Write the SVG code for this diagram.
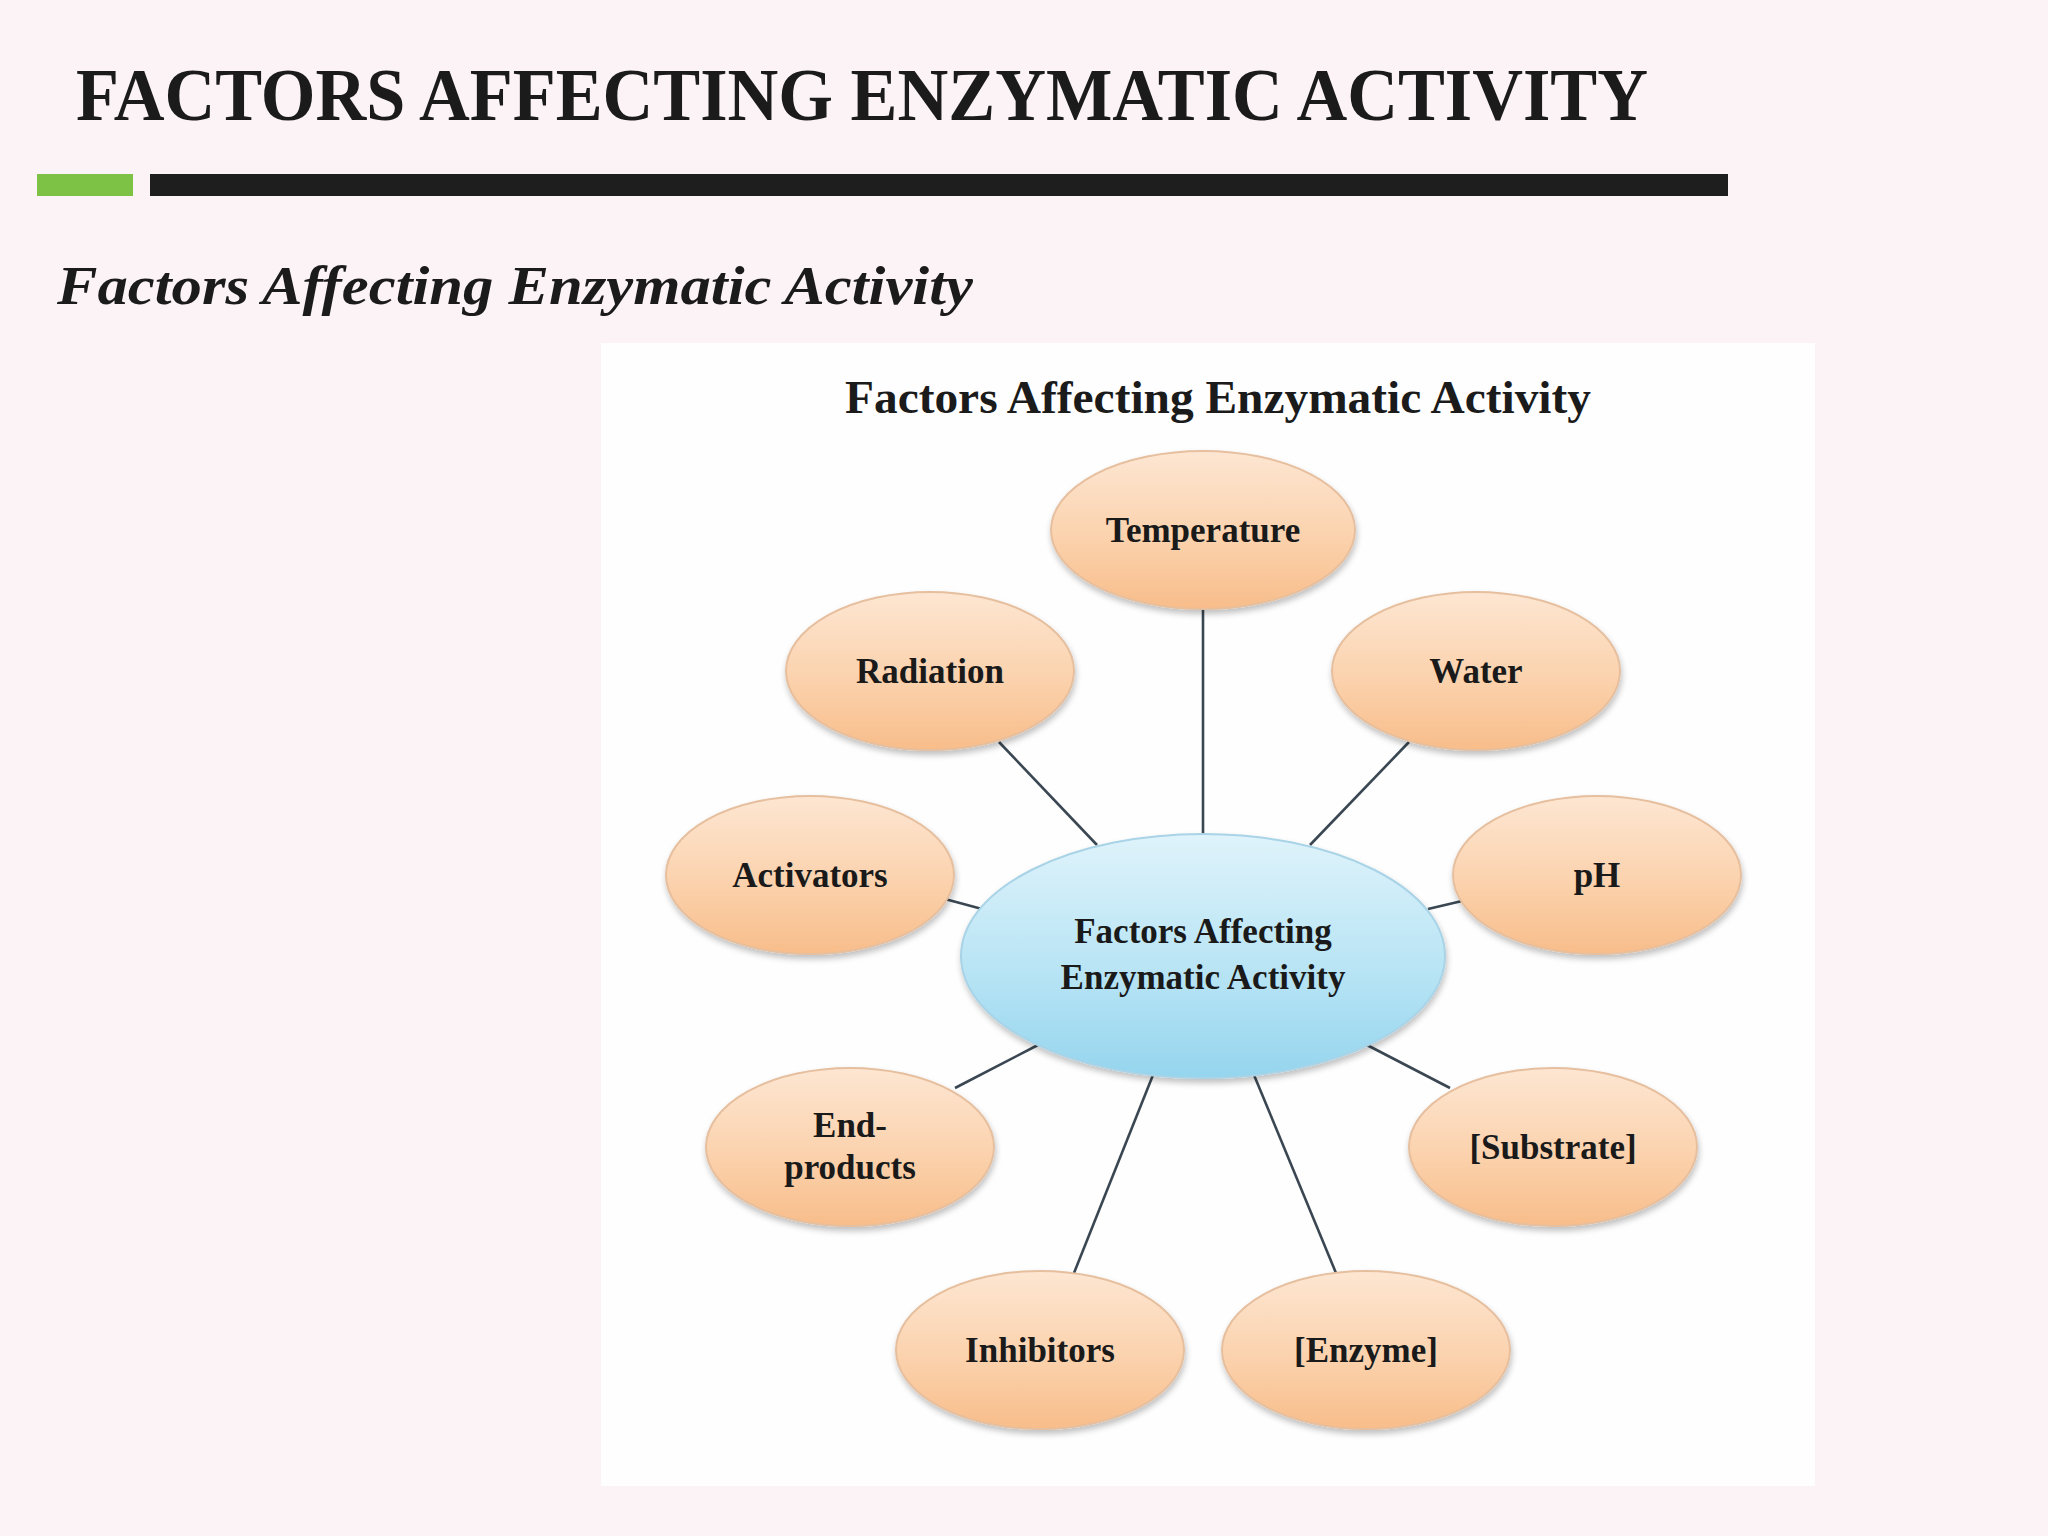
<svg xmlns="http://www.w3.org/2000/svg" width="2048" height="1536" viewBox="0 0 2048 1536">
<defs>
<linearGradient id="peach" x1="0" y1="0" x2="0" y2="1">
<stop offset="0" stop-color="#fde6d2"/>
<stop offset="0.55" stop-color="#fbd2ad"/>
<stop offset="1" stop-color="#f8bd8a"/>
</linearGradient>
<linearGradient id="blue" x1="0" y1="0" x2="0" y2="1">
<stop offset="0" stop-color="#dff3fb"/>
<stop offset="0.6" stop-color="#b5e3f4"/>
<stop offset="1" stop-color="#95d5ee"/>
</linearGradient>
<filter id="sh" x="-20%" y="-20%" width="140%" height="150%">
<feGaussianBlur in="SourceAlpha" stdDeviation="3"/>
<feOffset dx="1" dy="4"/>
<feComponentTransfer><feFuncA type="linear" slope="0.25"/></feComponentTransfer>
<feMerge><feMergeNode/><feMergeNode in="SourceGraphic"/></feMerge>
</filter>
</defs>
<style>
.node{fill:url(#peach);stroke:#e6bf9f;stroke-width:2;filter:url(#sh)}
.center{fill:url(#blue);stroke:#a9d3e6;stroke-width:2;filter:url(#sh)}
.lbl{font-family:"Liberation Serif",serif;font-weight:bold;font-size:35px;fill:#1a1a1a;text-anchor:middle}
.conn line{stroke:#3a4752;stroke-width:2.6}
</style>
<rect x="0" y="0" width="2048" height="1536" fill="#fcf3f6"/>
<g id="header">
<text x="76" y="120" font-family="Liberation Serif, serif" font-weight="bold" font-size="74" fill="#1b1b1b" textLength="1572" lengthAdjust="spacingAndGlyphs">FACTORS AFFECTING ENZYMATIC ACTIVITY</text>
<rect x="37" y="174" width="96" height="22" fill="#7dc244"/>
<rect x="150" y="174" width="1578" height="22" fill="#1e1e1e"/>
<text x="57" y="304" font-family="Liberation Serif, serif" font-weight="bold" font-style="italic" font-size="54" fill="#1b1b1b" textLength="916" lengthAdjust="spacingAndGlyphs">Factors Affecting Enzymatic Activity</text>
</g>
<rect id="panel" x="601" y="343" width="1214" height="1143" fill="#fefefe"/>
<text x="1218" y="413" font-family="Liberation Serif, serif" font-weight="bold" font-size="46" fill="#1b1b1b" text-anchor="middle" textLength="746" lengthAdjust="spacingAndGlyphs">Factors Affecting Enzymatic Activity</text>
<g id="connectors" class="conn">
<line x1="1203" y1="609" x2="1203" y2="834"/>
<line x1="999" y1="742" x2="1097" y2="845"/>
<line x1="1409" y1="742" x2="1310" y2="845"/>
<line x1="945" y1="899" x2="982" y2="909"/>
<line x1="1462" y1="901" x2="1428" y2="909"/>
<line x1="955" y1="1088" x2="1038" y2="1045"/>
<line x1="1450" y1="1088" x2="1367" y2="1045"/>
<line x1="1074" y1="1273" x2="1153" y2="1075"/>
<line x1="1336" y1="1273" x2="1254" y2="1075"/>
</g>
<g id="center">
<ellipse class="center" cx="1203" cy="956" rx="242" ry="122"/>
<text class="lbl" x="1203" y="943" font-size="38">Factors Affecting</text>
<text class="lbl" x="1203" y="989" font-size="38">Enzymatic Activity</text>
</g>
<g id="temperature"><ellipse class="node" cx="1203" cy="530" rx="152" ry="79"/><text class="lbl" x="1203" y="542">Temperature</text></g>
<g id="radiation"><ellipse class="node" cx="930" cy="671" rx="144" ry="79"/><text class="lbl" x="930" y="683">Radiation</text></g>
<g id="water"><ellipse class="node" cx="1476" cy="671" rx="144" ry="79"/><text class="lbl" x="1476" y="683">Water</text></g>
<g id="activators"><ellipse class="node" cx="810" cy="875" rx="144" ry="79"/><text class="lbl" x="810" y="887">Activators</text></g>
<g id="ph"><ellipse class="node" cx="1597" cy="875" rx="144" ry="79"/><text class="lbl" x="1597" y="887">pH</text></g>
<g id="end-products"><ellipse class="node" cx="850" cy="1147" rx="144" ry="79"/><text class="lbl" x="850" y="1137">End-</text><text class="lbl" x="850" y="1179">products</text></g>
<g id="substrate"><ellipse class="node" cx="1553" cy="1147" rx="144" ry="79"/><text class="lbl" x="1553" y="1159">[Substrate]</text></g>
<g id="inhibitors"><ellipse class="node" cx="1040" cy="1350" rx="144" ry="79"/><text class="lbl" x="1040" y="1362">Inhibitors</text></g>
<g id="enzyme"><ellipse class="node" cx="1366" cy="1350" rx="144" ry="79"/><text class="lbl" x="1366" y="1362">[Enzyme]</text></g>
</svg>
